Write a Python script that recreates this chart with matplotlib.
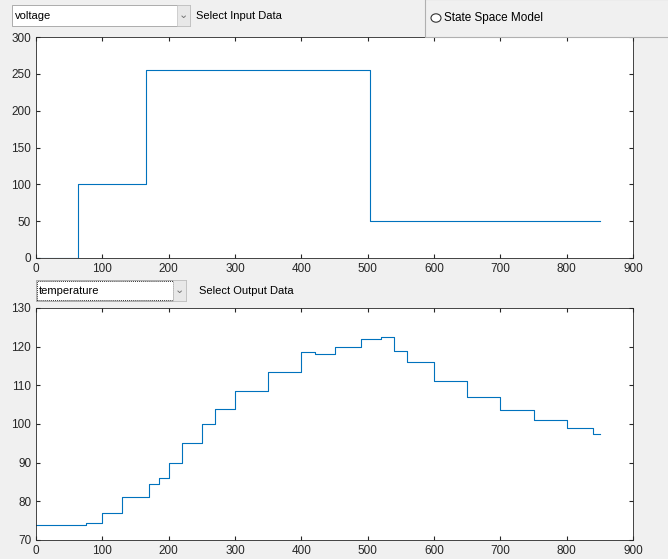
import matplotlib
matplotlib.use("Agg")
import matplotlib.pyplot as plt
from matplotlib.patches import Rectangle, Circle

# input data (voltage)
vin_t = [0, 64, 64, 166, 166, 503, 503, 850]
vin_v = [0, 0, 100, 100, 255, 255, 50, 50]
# output data (temperature)
temp_t = [0, 60, 75, 100, 130, 170, 185, 200, 220, 250, 270, 300, 350, 400, 420, 450, 490, 520, 540, 560, 600, 650, 700, 750, 800, 840, 850]
temp_v = [73.8, 74.0, 74.5, 77, 81, 84.5, 86, 90, 95, 100, 104, 108.5, 113.5, 118.5, 118.2, 120, 122, 122.5, 119, 116, 111, 107, 103.5, 101, 99, 97.5, 97.3]

W, H = 668, 559
fig = plt.figure(figsize=(W/100, H/100), dpi=100, facecolor="#f0f0f0")
plt.rcParams['font.family'] = ['Liberation Sans', 'DejaVu Sans']

def ax_at(x0, y0, x1, y1):
    return fig.add_axes([x0/W, 1-y1/H, (x1-x0)/W, (y1-y0)/H])

col = "#0072bd"
a1 = ax_at(36, 37, 633, 258)
a1.plot(vin_t, vin_v, color=col, lw=0.8)
a1.set_xlim(0, 900); a1.set_ylim(0, 300)
a1.set_xticks(range(0, 901, 100)); a1.set_yticks(range(0, 301, 50))

a2 = ax_at(36, 308, 633, 540)
a2.plot(temp_t, temp_v, color=col, lw=0.8, drawstyle="steps-post")
a2.set_xlim(0, 900); a2.set_ylim(70, 130)
a2.set_xticks(range(0, 901, 100)); a2.set_yticks(range(70, 131, 10))

for a in (a1, a2):
    a.tick_params(labelsize=8.5, direction="in", length=3, color="#262626", labelcolor="#262626")
    for s in a.spines.values():
        s.set_color("#262626"); s.set_linewidth(0.6)
    a.tick_params(top=True, right=True)

# UI elements in pixel coords
def rect(x0, y0, x1, y1, **kw):
    fig.patches.append(Rectangle((x0/W, 1-y1/H), (x1-x0)/W, (y1-y0)/H, transform=fig.transFigure, **kw))
def text(x, y, s, fs=8, **kw):
    fig.text(x/W, 1-y/H, s, va="center", fontsize=fs, **kw)

rect(425, -1, 669, 37, facecolor="#f0f0f0", edgecolor="#b0b0b0", lw=0.8)
rect(12, 5, 190, 26, facecolor="white", edgecolor="#a0a0a0", lw=0.6)
rect(177, 5, 190, 26, facecolor="#e8e8e8", edgecolor="#c0c0c0", lw=0.5)
text(15, 16, "voltage")
text(179, 15, "⌄", color="#707070")
text(196, 16, "Select Input Data")
fig.patches.append(Circle((436/W, 1-18/H), 5/W, transform=fig.transFigure, facecolor="white", edgecolor="#333333", lw=0.8))
text(444, 18, "State Space Model", fs=8.5)

rect(36, 280, 186, 301, facecolor="white", edgecolor="#a0a0a0", lw=0.6)
rect(37, 281, 173, 300, facecolor="none", edgecolor="#333333", lw=0.7, ls=(0, (1, 1)))
rect(173, 280, 186, 301, facecolor="#e8e8e8", edgecolor="#c0c0c0", lw=0.5)
text(39, 291, "temperature")
text(175, 290, "⌄", color="#707070")
text(199, 291, "Select Output Data")

fig.savefig("out.png", dpi=100, facecolor=fig.get_facecolor())
